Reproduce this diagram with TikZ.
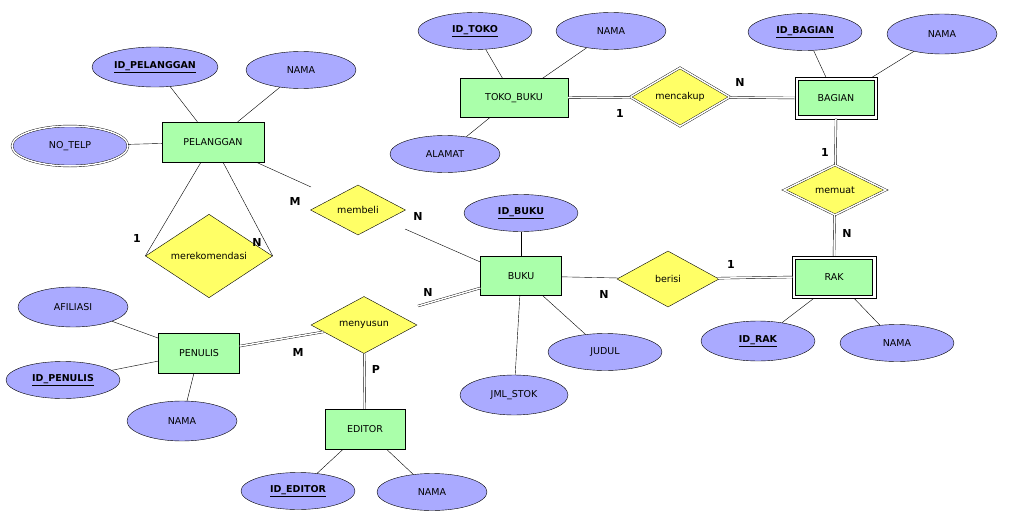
\documentclass[tikz,border=0pt]{standalone}
\usepackage{fontspec}
\setmainfont{DejaVu Sans}
\usetikzlibrary{shapes.geometric}
\definecolor{attrc}{HTML}{AAAAFF}
\definecolor{entc}{HTML}{AAFFAA}
\definecolor{relc}{HTML}{FFFF66}
\begin{document}
\begin{tikzpicture}[x=1pt,y=-1pt,font=\fontsize{9.5}{10}\selectfont,
 atr/.style={ellipse,draw,fill=attrc,inner sep=0,minimum width=110,minimum height=37},
 ent/.style={rectangle,draw,fill=entc,minimum width=81,minimum height=40,inner sep=0},
 rel/.style={diamond,draw,fill=relc,inner sep=0,minimum width=100,minimum height=52},
 wrel/.style={rel,double,double distance=1.5pt},
 dl/.style={double,double distance=1.5pt},
 card/.style={font=\bfseries\fontsize{11}{12}\selectfont}]
\useasboundingbox (0,0) rectangle (1018,530);
% PELANGGAN
\node[ent,minimum width=102] (pel) at (213,142) {PELANGGAN};
\node[atr,minimum width=126,minimum height=40] (idpel) at (155,67) {\textbf{\underline{ID\_PELANGGAN}}};
\node[atr] (nmpel) at (301,70) {NAMA};
\node[atr,double,double distance=1.5pt,minimum width=116,minimum height=40] (telp) at (70,146) {NO\_TELP};
\node[rel,minimum width=95,minimum height=50] (beli) at (358,210) {membeli};
\node[rel,minimum width=127,minimum height=66] (rek) at (209,256) {merekomendasi};
\draw (idpel) -- (pel); \draw (nmpel) -- (pel); \draw (telp) -- (pel);
\draw ([xshift=-12]pel.south) -- (rek.west);
\draw ([xshift=10]pel.south) -- (rek.east);
\node[card] (c1) at (137,238) {1}; \node[card] (c2) at (257,242) {N};
\node[card] (c3) at (295,201) {M}; \node[card] (c4) at (418,216) {N};
% TOKO
\node[ent,minimum width=108,minimum height=39] (toko) at (514,98) {TOKO\_BUKU};
\node[atr,minimum width=114] (idtoko) at (475,31) {\textbf{\underline{ID\_TOKO}}};
\node[atr] (nmtoko) at (611,31) {NAMA};
\node[atr] (alamat) at (445,154) {ALAMAT};
\draw (idtoko) -- (toko); \draw (nmtoko) -- (toko); \draw (alamat) -- (toko);
\node[wrel,minimum width=100,minimum height=52] (cakup) at (680,97) {mencakup};
\node[ent,minimum width=76,minimum height=35] (bag) at (836,98) {BAGIAN};
\draw ([shift={(-3pt,3pt)}]bag.north west) rectangle ([shift={(3pt,-3pt)}]bag.south east);
\node[atr,minimum width=114] (idbag) at (805,32) {\textbf{\underline{ID\_BAGIAN}}};
\node[atr,minimum height=40] (nmbag) at (942,34) {NAMA};
\draw (idbag) -- ([xshift=-10pt,yshift=3pt]bag.north); \draw (nmbag) -- ([xshift=36pt,yshift=3pt]bag.north);
\draw[dl] (toko) -- (cakup); \draw[dl] (cakup) -- ([xshift=-3pt]bag.west);
\node[card] (c5) at (620,113) {1}; \node[card] (c6) at (740,82) {N};
\node[wrel,minimum width=102,minimum height=50] (muat) at (835,190) {memuat};
\node[ent,minimum width=77,minimum height=36] (rak) at (834,277) {RAK};
\draw ([shift={(-3pt,3pt)}]rak.north west) rectangle ([shift={(3pt,-3pt)}]rak.south east);
\draw[dl] ([yshift=-3pt]bag.south) -- (muat); \draw[dl] (muat) -- ([yshift=3pt]rak.north);
\node[card] (c7) at (825,152) {1}; \node[card] (c8) at (847,233) {N};
\node[atr,minimum width=114,minimum height=40] (idrak) at (758,341) {\textbf{\underline{ID\_RAK}}};
\node[atr,minimum width=114] (nmrak) at (897,343) {NAMA};
\draw (idrak) -- ([xshift=-20pt,yshift=-3pt]rak.south); \draw (nmrak) -- ([xshift=20pt,yshift=-3pt]rak.south);
% BUKU
\node[ent,minimum height=39] (buku) at (521,276) {BUKU};
\node[rel,minimum width=102,minimum height=56] (isi) at (668,279) {berisi};
\draw (buku) -- (isi); \draw[dl] (isi) -- ([xshift=-3pt]rak.west);
\node[card] (c9) at (731,264) {1}; \node[card] (c10) at (604,294) {N};
\node[atr,minimum width=114] (idbuku) at (521,213) {\textbf{\underline{ID\_BUKU}}};
\node[atr,minimum width=114] (judul) at (605,352) {JUDUL};
\node[atr,minimum width=108,minimum height=40] (stok) at (514,395) {JML\_STOK};
\draw (idbuku) -- (buku); \draw (judul) -- (buku); \draw (stok) -- (buku);
\coordinate (b1) at (405,229); \coordinate (b2) at (311,187);
\draw (b1) -- ([yshift=14pt]buku.west);
\draw ([xshift=-8pt]pel.south east) -- (b2);
% menyusun
\node[rel,minimum width=106,minimum height=56] (susun) at (364,325) {menyusun};
\node[ent] (pen) at (199,353) {PENULIS};
\node[atr,minimum height=40] (afil) at (73,307) {AFILIASI};
\node[atr,minimum width=114] (idpen) at (63,380) {\textbf{\underline{ID\_PENULIS}}};
\node[atr,minimum height=40] (nmpen) at (182,421) {NAMA};
\draw (afil) -- (pen); \draw (idpen) -- (pen); \draw (nmpen) -- (pen);
\node[ent,minimum width=80] (ed) at (365,429) {EDITOR};
\node[atr,minimum width=114] (ided) at (298,491) {\textbf{\underline{ID\_EDITOR}}};
\node[atr] (nmed) at (432,492) {NAMA};
\draw (ided) -- (ed); \draw (nmed) -- (ed);
\coordinate (s1) at (418,306);
\draw[dl] (s1) -- ([yshift=-12pt]buku.west);
\draw[dl] (pen) -- (susun); \draw[dl] (susun) -- (ed);
\node[card] (c11) at (428,292) {N}; \node[card] (c12) at (298,352) {M};
\node[card] (c13) at (376,369) {P};
\end{tikzpicture}
\end{document}
